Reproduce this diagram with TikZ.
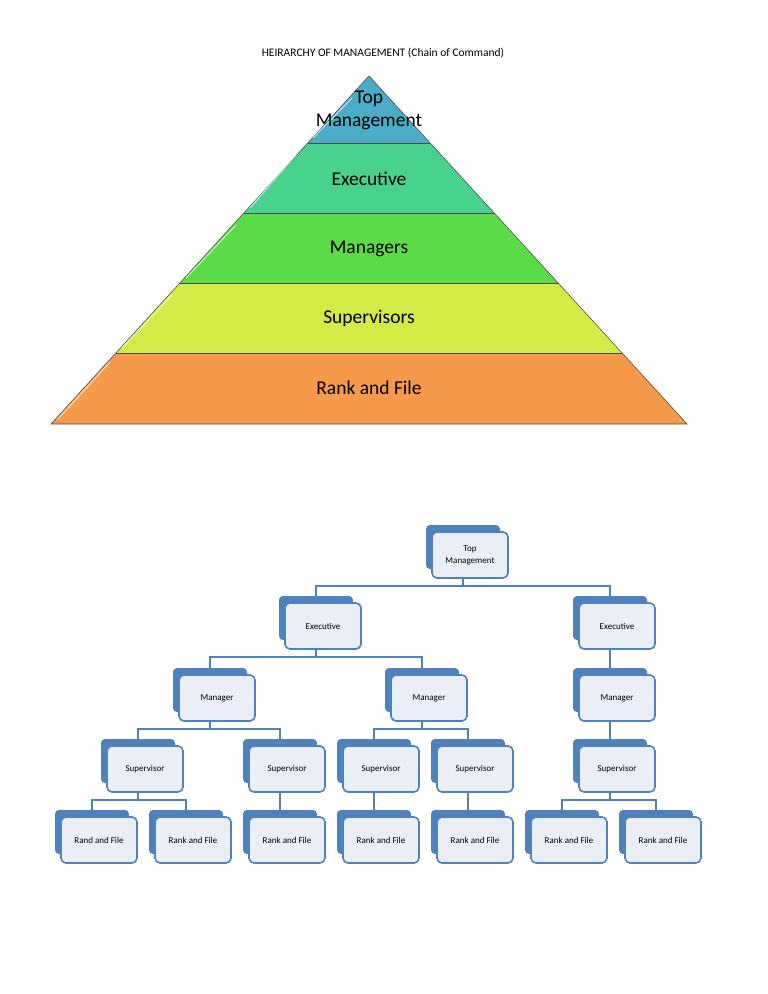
\documentclass[tikz,border=0pt]{standalone}
\usepackage{fontspec}
\setmainfont{Carlito}
\usepackage{tikz}
\usetikzlibrary{positioning}
\usetikzlibrary{calc}
\definecolor{orgblue}{HTML}{4F81BD}
\definecolor{orgfill}{HTML}{EAEFF7}
\definecolor{topc}{HTML}{4BACC6}
\definecolor{execc}{HTML}{48D28E}
\definecolor{manc}{HTML}{5CDB48}
\definecolor{supc}{HTML}{D4EB47}
\definecolor{rankc}{HTML}{F59A4A}
\tikzset{
    layer/.style = {draw=black!70, line width=0.6pt},
    ltext/.style = {font=\fontsize{19.5}{23}\selectfont, align=center},
    backbox/.style = {rectangle, rounded corners=4pt, fill=orgblue, minimum width=74pt, minimum height=44pt, inner sep=0pt},
    frontbox/.style = {rectangle, rounded corners=5pt, draw=orgblue, line width=1.6pt, fill=orgfill, minimum width=76pt, minimum height=46pt, inner sep=2pt, align=center, font=\fontsize{9}{12}\selectfont},
    link/.style = {draw=orgblue, line width=1.8pt}
}
\newcommand{\orgbox}[3]{%
    \node [backbox] (#1b) at ($(#2)+(-7,-8)$) {};
    \node [frontbox] (#1) at (#2) {#3};
}
\begin{document}
\begin{tikzpicture}[x=1pt, y=-1pt]
    \useasboundingbox (0,0) rectangle (768,994);

    \node (title) at (383,53) {\fontsize{11.5}{13}\selectfont HEIRARCHY OF MANAGEMENT (Chain of Command)};

    % pyramid
    \coordinate (apex) at (369,76);
    \fill [rankc] (116,353) -- (622,353) -- (687,424) -- (51,424) -- cycle;
    \fill [supc] (180,283) -- (558,283) -- (622,353) -- (116,353) -- cycle;
    \fill [manc] (244,213) -- (494,213) -- (558,283) -- (180,283) -- cycle;
    \fill [execc] (308,143) -- (430,143) -- (494,213) -- (244,213) -- cycle;
    \fill [topc] (apex) -- (430,143) -- (308,143) -- cycle;
    \foreach \y/\xl/\xr in {143/308/430, 213/244/494, 283/180/558, 353/116/622}
        \draw [layer] (\xl,\y) -- (\xr,\y);
    \draw [layer] (apex) -- (687,424) -- (51,424) -- cycle;
    \foreach \xa/\ya/\xb/\yb in {313/138/352/98, 250/208/296/155, 186/278/236/225, 122/348/172/295, 58/419/110/362}
        \draw [white, opacity=0.6, line width=1.2pt, line cap=round] (\xa,\ya) -- (\xb,\yb);
    \node [ltext] (ltop) at (369,110) {Top\\Management};
    \node [ltext] (lexec) at (369,179) {Executive};
    \node [ltext] (lman) at (369,249) {Managers};
    \node [ltext] (lsup) at (369,318) {Supervisors};
    \node [ltext] (lrank) at (369,388) {Rank and File};

    % org chart
    \orgbox{top}{470,555}{Top\\Management}
    \orgbox{exa}{323,626}{Executive}
    \orgbox{exb}{617,626}{Executive}
    \orgbox{maa}{217,698}{Manager}
    \orgbox{mab}{429,698}{Manager}
    \orgbox{mac}{617,698}{Manager}
    \orgbox{sua}{145,769}{Supervisor}
    \orgbox{sub}{287,769}{Supervisor}
    \orgbox{suc}{381,769}{Supervisor}
    \orgbox{sud}{475,769}{Supervisor}
    \orgbox{sue}{617,769}{Supervisor}
    \orgbox{ra}{99,840}{Rand and File}
    \orgbox{rb}{193,840}{Rank and File}
    \orgbox{rc}{287,840}{Rank and File}
    \orgbox{rd}{381,840}{Rank and File}
    \orgbox{re}{475,840}{Rank and File}
    \orgbox{rf}{569,840}{Rank and File}
    \orgbox{rg}{663,840}{Rank and File}

    \foreach \p/\c in {top/exa, top/exb, exa/maa, exa/mab, exb/mac, maa/sua, maa/sub,
                       mab/suc, mab/sud, mac/sue, sua/ra, sua/rb, sub/rc, suc/rd, sud/re, sue/rf, sue/rg}
        \draw [link] ($(\p.south)+(-7,0)$) -- ++(0,7) -| (\c b.north);
\end{tikzpicture}
\end{document}
